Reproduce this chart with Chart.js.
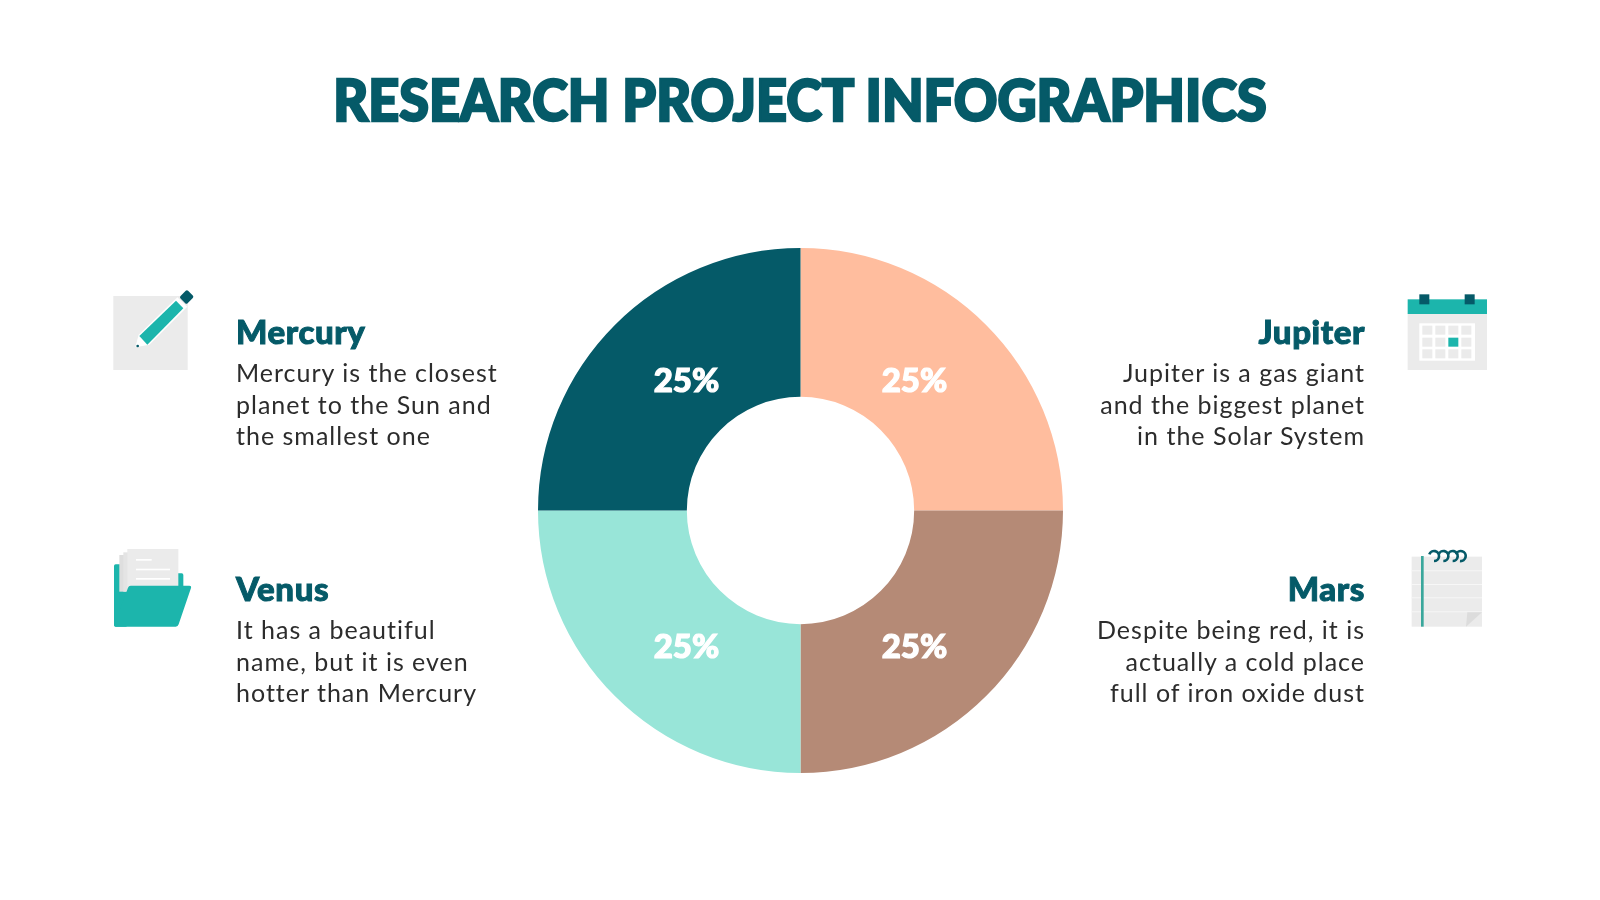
<!doctype html>
<html lang="en">
<head>
<meta charset="UTF-8">
<title>Research Project Infographics</title>
<style>
    html, body { margin: 0; background: #fff; }
    #page { position: relative; width: 1600px; height: 900px; overflow: hidden; font-family: Lato, sans-serif; }
    #title { position: absolute; left: 0; width: 1600px; top: 64px; text-align: center; font-size: 58px; line-height: 70px; font-weight: 900; color: #055a68; -webkit-text-stroke: 2.5px #055a68; transform: scaleX(0.93); }
    #myChart { position: absolute; left: 538px; top: 248px; }
    .block { position: absolute; width: 340px; }
    .block.left { left: 236px; text-align: left; }
    .block.right { left: 1025px; text-align: right; }
    .block h2 { margin: 0; font-size: 33px; line-height: 40px; font-weight: 900; color: #055a68; letter-spacing: 0.6px; -webkit-text-stroke: 1px #055a68; }
    .block p { margin: 6px 0 0; font-size: 25px; line-height: 31.5px; color: #2c2c2c; letter-spacing: 1px; white-space: pre-line; }
    svg { position: absolute; }
</style>
</head>
<body>
<div id="page">
    <div id="title">RESEARCH PROJECT INFOGRAPHICS</div>
    <canvas id="myChart" width="525" height="525"></canvas>

    <!-- pencil -->
    <svg style="left:90px;top:270px" width="120" height="110" viewBox="0 0 360 330">
        <rect x="70" y="78" width="223" height="222" fill="#ebebeb"/>
        <polygon points="136,232 146,194 262,82 292,110 178,224" fill="#fff"/>
        <polygon points="148,198 258,92 280,115 172,224" fill="#1cb5ac"/>
        <circle cx="143" cy="228" r="4" fill="#055a68"/>
        <rect x="275" y="65" width="30" height="32" rx="5" transform="rotate(45 290 81)" fill="#055a68"/>
    </svg>

    <!-- folder -->
    <svg style="left:90px;top:525px" width="120" height="105" viewBox="0 0 360 315">
        <rect x="72" y="118" width="40" height="187" rx="5" fill="#1cb5ac"/>
        <rect x="240" y="145" width="40" height="60" rx="5" fill="#1cb5ac"/>
        <rect x="88" y="90" width="100" height="110" fill="#dedede"/>
        <rect x="100" y="82" width="100" height="118" fill="#e4e4e4"/>
        <rect x="112" y="72" width="153" height="128" fill="#ebebeb"/>
        <rect x="138" y="102" width="47" height="5" fill="#fff"/>
        <rect x="138" y="131" width="102" height="5" fill="#fff"/>
        <rect x="138" y="159" width="102" height="5" fill="#fff"/>
        <path d="M122 182 H298 Q305 182 303 189 L266 298 Q264 305 257 305 H78 Q71 305 73 298 L114 188 Q116 182 122 182 Z" fill="#1cb5ac"/>
    </svg>

    <!-- calendar -->
    <svg style="left:1360px;top:275px" width="130" height="100" viewBox="0 0 390 300">
        <rect x="143" y="115" width="238" height="170" fill="#ebebeb"/>
        <rect x="143" y="73" width="238" height="44" fill="#1cb5ac"/>
        <rect x="178" y="58" width="30" height="30" fill="#055a68"/>
        <rect x="314" y="58" width="30" height="30" fill="#055a68"/>
        <rect x="178" y="145" width="167" height="112" fill="#fff"/>
        <g fill="#ebebeb">
            <rect x="187" y="152" width="30" height="27"/><rect x="226" y="152" width="30" height="27"/><rect x="265" y="152" width="30" height="27"/><rect x="304" y="152" width="30" height="27"/>
            <rect x="187" y="188" width="30" height="27"/><rect x="226" y="188" width="30" height="27"/><rect x="304" y="188" width="30" height="27"/>
            <rect x="187" y="223" width="30" height="27"/><rect x="226" y="223" width="30" height="27"/><rect x="265" y="223" width="30" height="27"/><rect x="304" y="223" width="30" height="27"/>
        </g>
        <rect x="265" y="188" width="30" height="27" fill="#1cb5ac"/>
    </svg>

    <!-- notebook -->
    <svg style="left:1360px;top:525px" width="130" height="105" viewBox="0 0 390 315">
        <rect x="155" y="95" width="211" height="210" fill="#ebebeb"/>
        <g fill="#f7f7f7">
            <rect x="155" y="136" width="211" height="3"/>
            <rect x="155" y="177" width="211" height="3"/>
            <rect x="155" y="217" width="211" height="3"/>
            <rect x="155" y="259" width="211" height="3"/>
        </g>
        <polygon points="318,305 366,262 322,262" fill="#dcdcdc"/>
        <rect x="183" y="93" width="8" height="212" fill="#3aa79c"/>
        <g fill="none" stroke="#055a68" stroke-width="8">
            <path d="M208 88 A 15 15 0 1 1 222 108"/>
            <path d="M236 88 A 15 15 0 1 1 250 108"/>
            <path d="M264 88 A 15 15 0 1 1 278 108"/>
            <path d="M288 88 A 15 15 0 1 1 300 108"/>
        </g>
    </svg>

    <div class="block left" style="top:311px"><h2>Mercury</h2><p>Mercury is the closest
planet to the Sun and
the smallest one</p></div>
    <div class="block left" style="top:568px"><h2>Venus</h2><p>It has a beautiful
name, but it is even
hotter than Mercury</p></div>
    <div class="block right" style="top:311px"><h2>Jupiter</h2><p>Jupiter is a gas giant
and the biggest planet
in the Solar System</p></div>
    <div class="block right" style="top:568px"><h2>Mars</h2><p>Despite being red, it is
actually a cold place
full of iron oxide dust</p></div>
</div>
<script src="https://cdn.jsdelivr.net/npm/chart.js@4"></script>
<script>
    var planets = ["Jupiter", "Mars", "Venus", "Mercury"];
    var shares = [25, 25, 25, 25];
    var sliceColors = ["#ffbd9e", "#b58a76", "#98e5d8", "#055a68"];

    // the labels do not sit on the slice centroid in the original
    var percentLabels = {
        id: "percentLabels",
        afterDatasetsDraw: function (chart) {
            var ctx = chart.ctx;
            var arcs = chart.getDatasetMeta(0).data;
            ctx.save();
            ctx.fillStyle = "#fff";
            ctx.strokeStyle = "#fff";
            ctx.lineWidth = 1.2;
            ctx.font = "900 33px Lato, sans-serif";
            ctx.textAlign = "center";
            ctx.textBaseline = "middle";
            arcs.forEach(function (arc, i) {
                var pos = arc.tooltipPosition();
                var dx = pos.x - arc.x, dy = pos.y - arc.y;
                var x = arc.x + Math.sign(dx) * 114;
                var y = arc.y + (dy < 0 ? -129 : 137);
                ctx.fillText(shares[i] + "%", x, y);
                ctx.strokeText(shares[i] + "%", x, y);
            });
            ctx.restore();
        }
    };

    new Chart(document.getElementById("myChart"), {
        type: "doughnut",
        data: {
            labels: planets,
            datasets: [{data: shares, backgroundColor: sliceColors, borderWidth: 0}]
        },
        options: {
            responsive: false,
            animation: false,
            cutout: "43.3%",
            plugins: {legend: {display: false}, tooltip: {enabled: false}}
        },
        plugins: [percentLabels]
    });
</script>
</body>
</html>
